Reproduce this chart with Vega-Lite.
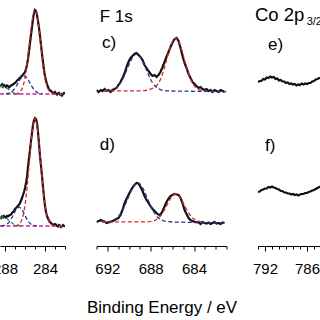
{
  "$schema": "https://vega.github.io/schema/vega-lite/v6.json",
  "padding": {"left": -8, "top": 0, "right": 0, "bottom": 8},
  "spacing": 31.5,
  "bounds": "flush",
  "config": {
    "view": {"stroke": null},
    "font": "Liberation Sans",
    "axis": {
      "domainColor": "#000", "tickColor": "#000", "labelColor": "#000",
      "labelFont": "Liberation Sans", "labelFontSize": 15, "labelPadding": 10,
      "titleFont": "Liberation Sans", "titleFontSize": 17, "titleFontWeight": "normal",
      "titleColor": "#000", "titlePadding": 23, "grid": false, "labelOverlap": false,
      "domainWidth": 1, "tickWidth": 1
    }
  },
  "datasets": {
    "c1s": [
      {"r":"a","E":288.5,"I":161},{"r":"a","E":288.4,"I":160},{"r":"a","E":288.3,"I":161.5},{"r":"a","E":288.2,"I":159.5},{"r":"a","E":288.1,"I":161},{"r":"a","E":288.0,"I":160},{"r":"a","E":287.9,"I":159},{"r":"a","E":287.8,"I":160.5},{"r":"a","E":287.7,"I":160},{"r":"a","E":287.6,"I":158.5},{"r":"a","E":287.5,"I":159.5},{"r":"a","E":287.4,"I":160.5},{"r":"a","E":287.3,"I":161},{"r":"a","E":287.2,"I":161.5},{"r":"a","E":287.1,"I":162.5},{"r":"a","E":287.0,"I":163},{"r":"a","E":286.9,"I":164},{"r":"a","E":286.8,"I":165.5},{"r":"a","E":286.7,"I":166},{"r":"a","E":286.6,"I":167.5},{"r":"a","E":286.5,"I":168},{"r":"a","E":286.4,"I":169.5},{"r":"a","E":286.3,"I":170},{"r":"a","E":286.2,"I":171.5},{"r":"a","E":286.1,"I":172.5},{"r":"a","E":286.0,"I":174},{"r":"a","E":285.9,"I":177},{"r":"a","E":285.8,"I":181},{"r":"a","E":285.7,"I":187},{"r":"a","E":285.6,"I":195},{"r":"a","E":285.5,"I":203},{"r":"a","E":285.4,"I":211},{"r":"a","E":285.3,"I":219},{"r":"a","E":285.2,"I":227},{"r":"a","E":285.1,"I":233},{"r":"a","E":285.0,"I":236},{"r":"a","E":284.9,"I":235},{"r":"a","E":284.8,"I":231},{"r":"a","E":284.7,"I":225},{"r":"a","E":284.6,"I":218},{"r":"a","E":284.5,"I":210},{"r":"a","E":284.4,"I":201},{"r":"a","E":284.3,"I":192},{"r":"a","E":284.2,"I":184},{"r":"a","E":284.1,"I":176},{"r":"a","E":284.0,"I":170},{"r":"a","E":283.9,"I":165.5},{"r":"a","E":283.8,"I":162},{"r":"a","E":283.7,"I":159},{"r":"a","E":283.6,"I":157},{"r":"a","E":283.5,"I":155.5},{"r":"a","E":283.4,"I":155},{"r":"a","E":283.3,"I":154},{"r":"a","E":283.2,"I":152.5},{"r":"a","E":283.1,"I":153},{"r":"a","E":283.0,"I":154},{"r":"a","E":282.9,"I":152.5},{"r":"a","E":282.8,"I":151.5},{"r":"a","E":282.7,"I":152.5},{"r":"a","E":282.6,"I":153},{"r":"a","E":282.5,"I":151.5},{"r":"a","E":282.4,"I":152},{"r":"a","E":282.3,"I":150.5},{"r":"a","E":282.2,"I":152},{"r":"a","E":282.1,"I":153},{"r":"a","E":282.0,"I":152},
      {"r":"b","E":288.5,"I":29},{"r":"b","E":288.4,"I":28},{"r":"b","E":288.3,"I":29.5},{"r":"b","E":288.2,"I":28.5},{"r":"b","E":288.1,"I":30},{"r":"b","E":288.0,"I":29},{"r":"b","E":287.9,"I":28.5},{"r":"b","E":287.8,"I":30},{"r":"b","E":287.7,"I":29.5},{"r":"b","E":287.6,"I":30.5},{"r":"b","E":287.5,"I":31},{"r":"b","E":287.4,"I":31.5},{"r":"b","E":287.3,"I":33},{"r":"b","E":287.2,"I":34},{"r":"b","E":287.1,"I":35},{"r":"b","E":287.0,"I":37},{"r":"b","E":286.9,"I":38},{"r":"b","E":286.8,"I":39},{"r":"b","E":286.7,"I":40.5},{"r":"b","E":286.6,"I":41},{"r":"b","E":286.5,"I":43},{"r":"b","E":286.4,"I":45.5},{"r":"b","E":286.3,"I":48},{"r":"b","E":286.2,"I":51},{"r":"b","E":286.1,"I":54},{"r":"b","E":286.0,"I":58},{"r":"b","E":285.9,"I":63},{"r":"b","E":285.8,"I":69},{"r":"b","E":285.7,"I":79},{"r":"b","E":285.6,"I":88},{"r":"b","E":285.5,"I":96},{"r":"b","E":285.4,"I":105},{"r":"b","E":285.3,"I":113},{"r":"b","E":285.2,"I":121},{"r":"b","E":285.1,"I":126},{"r":"b","E":285.0,"I":128},{"r":"b","E":284.9,"I":127},{"r":"b","E":284.8,"I":123},{"r":"b","E":284.7,"I":114},{"r":"b","E":284.6,"I":102},{"r":"b","E":284.5,"I":90},{"r":"b","E":284.4,"I":80},{"r":"b","E":284.3,"I":70},{"r":"b","E":284.2,"I":59},{"r":"b","E":284.1,"I":49},{"r":"b","E":284.0,"I":40},{"r":"b","E":283.9,"I":34},{"r":"b","E":283.8,"I":30},{"r":"b","E":283.7,"I":27.5},{"r":"b","E":283.6,"I":25.5},{"r":"b","E":283.5,"I":24},{"r":"b","E":283.4,"I":23},{"r":"b","E":283.3,"I":22},{"r":"b","E":283.2,"I":21.5},{"r":"b","E":283.1,"I":21},{"r":"b","E":283.0,"I":22},{"r":"b","E":282.9,"I":21.5},{"r":"b","E":282.8,"I":20},{"r":"b","E":282.7,"I":19.5},{"r":"b","E":282.6,"I":21},{"r":"b","E":282.5,"I":20.5},{"r":"b","E":282.4,"I":19},{"r":"b","E":282.3,"I":20},{"r":"b","E":282.2,"I":21},{"r":"b","E":282.1,"I":20},{"r":"b","E":282.0,"I":19.5}
    ],
    "c1sfit": [
      {"r":"a","c":"base","E":288.5,"I":152},{"r":"a","c":"base","E":282.0,"I":152},
      {"r":"a","c":"green","E":288.5,"I":159.6},{"r":"a","c":"green","E":288.3,"I":160},{"r":"a","c":"green","E":288.1,"I":159.6},{"r":"a","c":"green","E":287.9,"I":158.4},{"r":"a","c":"green","E":287.7,"I":156.9},{"r":"a","c":"green","E":287.5,"I":155.3},{"r":"a","c":"green","E":287.3,"I":154},{"r":"a","c":"green","E":287.1,"I":153.1},{"r":"a","c":"green","E":286.9,"I":152.5},{"r":"a","c":"green","E":286.7,"I":152.2},{"r":"a","c":"green","E":286.5,"I":152},
      {"r":"a","c":"blue","E":287.9,"I":152.2},{"r":"a","c":"blue","E":287.7,"I":152.5},{"r":"a","c":"blue","E":287.5,"I":153.2},{"r":"a","c":"blue","E":287.3,"I":154.4},{"r":"a","c":"blue","E":287.1,"I":156.5},{"r":"a","c":"blue","E":286.9,"I":159.4},{"r":"a","c":"blue","E":286.7,"I":162.9},{"r":"a","c":"blue","E":286.5,"I":166.4},{"r":"a","c":"blue","E":286.3,"I":169},{"r":"a","c":"blue","E":286.1,"I":170},{"r":"a","c":"blue","E":285.9,"I":169},{"r":"a","c":"blue","E":285.7,"I":166.4},{"r":"a","c":"blue","E":285.5,"I":162.9},{"r":"a","c":"blue","E":285.3,"I":159.4},{"r":"a","c":"blue","E":285.1,"I":156.5},{"r":"a","c":"blue","E":284.9,"I":154.4},{"r":"a","c":"blue","E":284.7,"I":153.2},{"r":"a","c":"blue","E":284.5,"I":152.5},{"r":"a","c":"blue","E":284.3,"I":152.2},
      {"r":"a","c":"main","E":287.0,"I":152.1},{"r":"a","c":"main","E":286.8,"I":152.4},{"r":"a","c":"main","E":286.6,"I":153.2},{"r":"a","c":"main","E":286.4,"I":155.3},{"r":"a","c":"main","E":286.3,"I":157.1},{"r":"a","c":"main","E":286.2,"I":159.8},{"r":"a","c":"main","E":286.1,"I":163.3},{"r":"a","c":"main","E":286.0,"I":168},{"r":"a","c":"main","E":285.9,"I":174},{"r":"a","c":"main","E":285.8,"I":181.1},{"r":"a","c":"main","E":285.7,"I":189.4},{"r":"a","c":"main","E":285.6,"I":198.4},{"r":"a","c":"main","E":285.5,"I":207.6},{"r":"a","c":"main","E":285.4,"I":216.5},{"r":"a","c":"main","E":285.3,"I":224.4},{"r":"a","c":"main","E":285.2,"I":230.6},{"r":"a","c":"main","E":285.1,"I":234.7},{"r":"a","c":"main","E":285.0,"I":236},{"r":"a","c":"main","E":284.9,"I":234.7},{"r":"a","c":"main","E":284.8,"I":230.6},{"r":"a","c":"main","E":284.7,"I":224.4},{"r":"a","c":"main","E":284.6,"I":216.5},{"r":"a","c":"main","E":284.5,"I":207.6},{"r":"a","c":"main","E":284.4,"I":198.4},{"r":"a","c":"main","E":284.3,"I":189.4},{"r":"a","c":"main","E":284.2,"I":181.1},{"r":"a","c":"main","E":284.1,"I":174},{"r":"a","c":"main","E":284.0,"I":168},{"r":"a","c":"main","E":283.9,"I":163.3},{"r":"a","c":"main","E":283.8,"I":159.8},{"r":"a","c":"main","E":283.7,"I":157.1},{"r":"a","c":"main","E":283.6,"I":155.3},{"r":"a","c":"main","E":283.4,"I":153.2},{"r":"a","c":"main","E":283.2,"I":152.4},{"r":"a","c":"main","E":283.0,"I":152.1},
      {"r":"b","c":"base","E":288.5,"I":20},{"r":"b","c":"base","E":282.0,"I":20},
      {"r":"b","c":"green","E":288.5,"I":27.9},{"r":"b","c":"green","E":288.4,"I":28.5},{"r":"b","c":"green","E":288.2,"I":29},{"r":"b","c":"green","E":288.0,"I":28.5},{"r":"b","c":"green","E":287.8,"I":27.2},{"r":"b","c":"green","E":287.6,"I":25.5},{"r":"b","c":"green","E":287.4,"I":23.7},{"r":"b","c":"green","E":287.2,"I":22.2},{"r":"b","c":"green","E":287.0,"I":21.2},{"r":"b","c":"green","E":286.8,"I":20.6},{"r":"b","c":"green","E":286.6,"I":20.25},{"r":"b","c":"green","E":286.4,"I":20.1},
      {"r":"b","c":"blue","E":288.4,"I":20.1},{"r":"b","c":"blue","E":288.2,"I":20.3},{"r":"b","c":"blue","E":288.0,"I":20.7},{"r":"b","c":"blue","E":287.8,"I":21.8},{"r":"b","c":"blue","E":287.6,"I":23.6},{"r":"b","c":"blue","E":287.4,"I":26.6},{"r":"b","c":"blue","E":287.2,"I":30.5},{"r":"b","c":"blue","E":287.0,"I":34.6},{"r":"b","c":"blue","E":286.8,"I":37.8},{"r":"b","c":"blue","E":286.6,"I":39},{"r":"b","c":"blue","E":286.4,"I":37.8},{"r":"b","c":"blue","E":286.2,"I":34.6},{"r":"b","c":"blue","E":286.0,"I":30.5},{"r":"b","c":"blue","E":285.8,"I":26.6},{"r":"b","c":"blue","E":285.6,"I":23.6},{"r":"b","c":"blue","E":285.4,"I":21.8},{"r":"b","c":"blue","E":285.2,"I":20.7},{"r":"b","c":"blue","E":285.0,"I":20.3},{"r":"b","c":"blue","E":284.8,"I":20.1},
      {"r":"b","c":"main","E":287.0,"I":20.2},{"r":"b","c":"main","E":286.8,"I":20.5},{"r":"b","c":"main","E":286.6,"I":21.6},{"r":"b","c":"main","E":286.4,"I":24.2},{"r":"b","c":"main","E":286.3,"I":26.6},{"r":"b","c":"main","E":286.2,"I":30},{"r":"b","c":"main","E":286.1,"I":34.6},{"r":"b","c":"main","E":286.0,"I":40.6},{"r":"b","c":"main","E":285.9,"I":48.3},{"r":"b","c":"main","E":285.8,"I":57.5},{"r":"b","c":"main","E":285.7,"I":68.1},{"r":"b","c":"main","E":285.6,"I":79.6},{"r":"b","c":"main","E":285.5,"I":91.5},{"r":"b","c":"main","E":285.4,"I":102.9},{"r":"b","c":"main","E":285.3,"I":113.1},{"r":"b","c":"main","E":285.2,"I":121.1},{"r":"b","c":"main","E":285.1,"I":126.3},{"r":"b","c":"main","E":285.0,"I":128},{"r":"b","c":"main","E":284.9,"I":126.3},{"r":"b","c":"main","E":284.8,"I":121.1},{"r":"b","c":"main","E":284.7,"I":113.1},{"r":"b","c":"main","E":284.6,"I":102.9},{"r":"b","c":"main","E":284.5,"I":91.5},{"r":"b","c":"main","E":284.4,"I":79.6},{"r":"b","c":"main","E":284.3,"I":68.1},{"r":"b","c":"main","E":284.2,"I":57.5},{"r":"b","c":"main","E":284.1,"I":48.3},{"r":"b","c":"main","E":284.0,"I":40.6},{"r":"b","c":"main","E":283.9,"I":34.6},{"r":"b","c":"main","E":283.8,"I":30},{"r":"b","c":"main","E":283.7,"I":26.6},{"r":"b","c":"main","E":283.6,"I":24.2},{"r":"b","c":"main","E":283.4,"I":21.6},{"r":"b","c":"main","E":283.2,"I":20.5},{"r":"b","c":"main","E":283.0,"I":20.2}
    ],
    "f1s": [
      {"r":"a","E":693.0,"I":156},{"r":"a","E":692.8,"I":154},{"r":"a","E":692.6,"I":156},{"r":"a","E":692.45,"I":155},{"r":"a","E":692.26,"I":157},{"r":"a","E":692.08,"I":155},{"r":"a","E":691.9,"I":156},{"r":"a","E":691.7,"I":154},{"r":"a","E":691.5,"I":156},{"r":"a","E":691.34,"I":157},{"r":"a","E":691.15,"I":158},{"r":"a","E":690.97,"I":161},{"r":"a","E":690.78,"I":164},{"r":"a","E":690.6,"I":168},{"r":"a","E":690.4,"I":173},{"r":"a","E":690.23,"I":179},{"r":"a","E":690.05,"I":184},{"r":"a","E":689.86,"I":188},{"r":"a","E":689.68,"I":190},{"r":"a","E":689.5,"I":192},{"r":"a","E":689.3,"I":193},{"r":"a","E":689.12,"I":191},{"r":"a","E":688.94,"I":189},{"r":"a","E":688.75,"I":186},{"r":"a","E":688.57,"I":181},{"r":"a","E":688.38,"I":178},{"r":"a","E":688.2,"I":175},{"r":"a","E":688.0,"I":172},{"r":"a","E":687.83,"I":170},{"r":"a","E":687.64,"I":171},{"r":"a","E":687.46,"I":169},{"r":"a","E":687.28,"I":171},{"r":"a","E":687.1,"I":174},{"r":"a","E":686.9,"I":179},{"r":"a","E":686.72,"I":184},{"r":"a","E":686.54,"I":189},{"r":"a","E":686.35,"I":194},{"r":"a","E":686.17,"I":199},{"r":"a","E":686.0,"I":203},{"r":"a","E":685.8,"I":207},{"r":"a","E":685.6,"I":208},{"r":"a","E":685.43,"I":205},{"r":"a","E":685.24,"I":198},{"r":"a","E":685.06,"I":190},{"r":"a","E":684.87,"I":183},{"r":"a","E":684.69,"I":178},{"r":"a","E":684.5,"I":172},{"r":"a","E":684.32,"I":168},{"r":"a","E":684.14,"I":164},{"r":"a","E":683.95,"I":162},{"r":"a","E":683.77,"I":160},{"r":"a","E":683.58,"I":158},{"r":"a","E":683.4,"I":159},{"r":"a","E":683.21,"I":157},{"r":"a","E":683.03,"I":156},{"r":"a","E":682.84,"I":157},{"r":"a","E":682.66,"I":155},{"r":"a","E":682.47,"I":156},{"r":"a","E":682.29,"I":154},{"r":"a","E":682.1,"I":156},{"r":"a","E":681.92,"I":155},{"r":"a","E":681.73,"I":154},{"r":"a","E":681.55,"I":156},{"r":"a","E":681.36,"I":155},{"r":"a","E":681.18,"I":154},
      {"r":"b","E":693.0,"I":24},{"r":"b","E":692.8,"I":25},{"r":"b","E":692.6,"I":26},{"r":"b","E":692.45,"I":25},{"r":"b","E":692.26,"I":24.5},{"r":"b","E":692.08,"I":23},{"r":"b","E":691.9,"I":23.5},{"r":"b","E":691.7,"I":24},{"r":"b","E":691.5,"I":25},{"r":"b","E":691.34,"I":26},{"r":"b","E":691.15,"I":27},{"r":"b","E":690.97,"I":28},{"r":"b","E":690.78,"I":31},{"r":"b","E":690.6,"I":36},{"r":"b","E":690.4,"I":43},{"r":"b","E":690.23,"I":47},{"r":"b","E":690.05,"I":51},{"r":"b","E":689.86,"I":55},{"r":"b","E":689.68,"I":58.5},{"r":"b","E":689.5,"I":61},{"r":"b","E":689.3,"I":63},{"r":"b","E":689.12,"I":62.5},{"r":"b","E":688.94,"I":59},{"r":"b","E":688.75,"I":55},{"r":"b","E":688.57,"I":50},{"r":"b","E":688.38,"I":46},{"r":"b","E":688.2,"I":43},{"r":"b","E":688.0,"I":39.5},{"r":"b","E":687.83,"I":37},{"r":"b","E":687.64,"I":35},{"r":"b","E":687.46,"I":33},{"r":"b","E":687.28,"I":31.5},{"r":"b","E":687.1,"I":31},{"r":"b","E":686.9,"I":35},{"r":"b","E":686.72,"I":39.5},{"r":"b","E":686.54,"I":44},{"r":"b","E":686.35,"I":47.5},{"r":"b","E":686.17,"I":50},{"r":"b","E":686.0,"I":51},{"r":"b","E":685.8,"I":52},{"r":"b","E":685.6,"I":51.5},{"r":"b","E":685.43,"I":51},{"r":"b","E":685.24,"I":48},{"r":"b","E":685.06,"I":43},{"r":"b","E":684.87,"I":36},{"r":"b","E":684.69,"I":32},{"r":"b","E":684.5,"I":28},{"r":"b","E":684.32,"I":26},{"r":"b","E":684.14,"I":25},{"r":"b","E":683.95,"I":24},{"r":"b","E":683.77,"I":24},{"r":"b","E":683.58,"I":23.5},{"r":"b","E":683.4,"I":22},{"r":"b","E":683.21,"I":24},{"r":"b","E":683.03,"I":23},{"r":"b","E":682.84,"I":22.5},{"r":"b","E":682.66,"I":23.5},{"r":"b","E":682.47,"I":22},{"r":"b","E":682.29,"I":23},{"r":"b","E":682.1,"I":24},{"r":"b","E":681.92,"I":22.5},{"r":"b","E":681.73,"I":23},{"r":"b","E":681.55,"I":22},{"r":"b","E":681.36,"I":23.5},{"r":"b","E":681.18,"I":23}
    ],
    "f1sfit": [
      {"r":"a","c":"main","E":692.3,"I":155},{"r":"a","c":"main","E":689.0,"I":155.1},{"r":"a","c":"main","E":688.5,"I":155.5},{"r":"a","c":"main","E":688.3,"I":156},{"r":"a","c":"main","E":688.1,"I":156.6},{"r":"a","c":"main","E":687.9,"I":157.3},{"r":"a","c":"main","E":687.7,"I":158.3},{"r":"a","c":"main","E":687.5,"I":159.8},{"r":"a","c":"main","E":687.3,"I":162.5},{"r":"a","c":"main","E":687.1,"I":166.5},{"r":"a","c":"main","E":686.9,"I":172.2},{"r":"a","c":"main","E":686.7,"I":179.3},{"r":"a","c":"main","E":686.5,"I":187.2},{"r":"a","c":"main","E":686.3,"I":195},{"r":"a","c":"main","E":686.1,"I":201.7},{"r":"a","c":"main","E":685.9,"I":206.4},{"r":"a","c":"main","E":685.7,"I":208},{"r":"a","c":"main","E":685.5,"I":206.4},{"r":"a","c":"main","E":685.3,"I":201.7},{"r":"a","c":"main","E":685.1,"I":195},{"r":"a","c":"main","E":684.9,"I":187.2},{"r":"a","c":"main","E":684.7,"I":179.3},{"r":"a","c":"main","E":684.5,"I":172.2},{"r":"a","c":"main","E":684.3,"I":166.4},{"r":"a","c":"main","E":684.1,"I":162.2},{"r":"a","c":"main","E":683.9,"I":159.2},{"r":"a","c":"main","E":683.7,"I":157.3},{"r":"a","c":"main","E":683.5,"I":156.2},{"r":"a","c":"main","E":683.3,"I":155.6},{"r":"a","c":"main","E":683.1,"I":155.3},{"r":"a","c":"main","E":682.9,"I":155.1},
      {"r":"a","c":"blue","E":691.9,"I":155.3},{"r":"a","c":"blue","E":691.7,"I":155.7},{"r":"a","c":"blue","E":691.5,"I":156.3},{"r":"a","c":"blue","E":691.3,"I":157.3},{"r":"a","c":"blue","E":691.1,"I":158.9},{"r":"a","c":"blue","E":690.9,"I":161.3},{"r":"a","c":"blue","E":690.7,"I":164.5},{"r":"a","c":"blue","E":690.5,"I":168.7},{"r":"a","c":"blue","E":690.3,"I":173.5},{"r":"a","c":"blue","E":690.1,"I":178.8},{"r":"a","c":"blue","E":689.9,"I":183.9},{"r":"a","c":"blue","E":689.7,"I":188.1},{"r":"a","c":"blue","E":689.5,"I":191},{"r":"a","c":"blue","E":689.3,"I":192},{"r":"a","c":"blue","E":689.1,"I":191},{"r":"a","c":"blue","E":688.9,"I":188.1},{"r":"a","c":"blue","E":688.7,"I":183.9},{"r":"a","c":"blue","E":688.5,"I":178.8},{"r":"a","c":"blue","E":688.3,"I":173.5},{"r":"a","c":"blue","E":688.1,"I":168.7},{"r":"a","c":"blue","E":687.9,"I":164.5},{"r":"a","c":"blue","E":687.7,"I":161.3},{"r":"a","c":"blue","E":687.5,"I":158.9},{"r":"a","c":"blue","E":687.3,"I":157.3},{"r":"a","c":"blue","E":687.1,"I":156.3},{"r":"a","c":"blue","E":686.9,"I":155.7},{"r":"a","c":"blue","E":686.7,"I":155.3},{"r":"a","c":"blue","E":686.5,"I":155.1},{"r":"a","c":"blue","E":686.0,"I":155},{"r":"a","c":"blue","E":684.0,"I":154.7},{"r":"a","c":"blue","E":681.0,"I":154.3},
      {"r":"b","c":"main","E":692.5,"I":24},{"r":"b","c":"main","E":688.5,"I":24.1},{"r":"b","c":"main","E":688.3,"I":24.2},{"r":"b","c":"main","E":688.1,"I":24.4},{"r":"b","c":"main","E":687.9,"I":24.7},{"r":"b","c":"main","E":687.7,"I":25.2},{"r":"b","c":"main","E":687.5,"I":26.2},{"r":"b","c":"main","E":687.3,"I":27.8},{"r":"b","c":"main","E":687.1,"I":30},{"r":"b","c":"main","E":686.9,"I":33.1},{"r":"b","c":"main","E":686.7,"I":36.8},{"r":"b","c":"main","E":686.5,"I":41},{"r":"b","c":"main","E":686.3,"I":45.1},{"r":"b","c":"main","E":686.1,"I":48.7},{"r":"b","c":"main","E":685.9,"I":51.1},{"r":"b","c":"main","E":685.7,"I":52},{"r":"b","c":"main","E":685.5,"I":51.1},{"r":"b","c":"main","E":685.3,"I":48.7},{"r":"b","c":"main","E":685.1,"I":45.1},{"r":"b","c":"main","E":684.9,"I":41},{"r":"b","c":"main","E":684.7,"I":36.8},{"r":"b","c":"main","E":684.5,"I":33.1},{"r":"b","c":"main","E":684.3,"I":30},{"r":"b","c":"main","E":684.1,"I":27.8},{"r":"b","c":"main","E":683.9,"I":26.2},{"r":"b","c":"main","E":683.7,"I":25.2},{"r":"b","c":"main","E":683.5,"I":24.6},{"r":"b","c":"main","E":683.3,"I":24.3},{"r":"b","c":"main","E":683.1,"I":24.1},
      {"r":"b","c":"blue","E":692.0,"I":24.3},{"r":"b","c":"blue","E":691.8,"I":24.6},{"r":"b","c":"blue","E":691.6,"I":25.1},{"r":"b","c":"blue","E":691.4,"I":26},{"r":"b","c":"blue","E":691.2,"I":27.3},{"r":"b","c":"blue","E":691.0,"I":29.3},{"r":"b","c":"blue","E":690.8,"I":32},{"r":"b","c":"blue","E":690.6,"I":35.6},{"r":"b","c":"blue","E":690.4,"I":40},{"r":"b","c":"blue","E":690.2,"I":45},{"r":"b","c":"blue","E":690.0,"I":50.3},{"r":"b","c":"blue","E":689.8,"I":55.2},{"r":"b","c":"blue","E":689.6,"I":59.3},{"r":"b","c":"blue","E":689.4,"I":62.1},{"r":"b","c":"blue","E":689.2,"I":63},{"r":"b","c":"blue","E":689.0,"I":62.1},{"r":"b","c":"blue","E":688.8,"I":59.3},{"r":"b","c":"blue","E":688.6,"I":55.2},{"r":"b","c":"blue","E":688.4,"I":50.3},{"r":"b","c":"blue","E":688.2,"I":45},{"r":"b","c":"blue","E":688.0,"I":40},{"r":"b","c":"blue","E":687.8,"I":35.6},{"r":"b","c":"blue","E":687.6,"I":32},{"r":"b","c":"blue","E":687.4,"I":29.3},{"r":"b","c":"blue","E":687.2,"I":27.3},{"r":"b","c":"blue","E":687.0,"I":26},{"r":"b","c":"blue","E":686.8,"I":25.1},{"r":"b","c":"blue","E":686.6,"I":24.6},{"r":"b","c":"blue","E":686.4,"I":24.3},{"r":"b","c":"blue","E":686.0,"I":24},{"r":"b","c":"blue","E":684.0,"I":23.5},{"r":"b","c":"blue","E":681.0,"I":23}
    ],
    "co": [
      {"r":"a","E":793.0,"I":164},{"r":"a","E":792.75,"I":165},{"r":"a","E":792.5,"I":165},{"r":"a","E":792.25,"I":167},{"r":"a","E":792.0,"I":166.5},{"r":"a","E":791.75,"I":168.5},{"r":"a","E":791.5,"I":168},{"r":"a","E":791.25,"I":169.5},{"r":"a","E":791.0,"I":168.5},{"r":"a","E":790.75,"I":169},{"r":"a","E":790.5,"I":167},{"r":"a","E":790.25,"I":167.5},{"r":"a","E":790.0,"I":165.5},{"r":"a","E":789.75,"I":166},{"r":"a","E":789.5,"I":164.5},{"r":"a","E":789.25,"I":164.5},{"r":"a","E":789.0,"I":163},{"r":"a","E":788.75,"I":163.5},{"r":"a","E":788.5,"I":162},{"r":"a","E":788.25,"I":162.5},{"r":"a","E":788.0,"I":161.5},{"r":"a","E":787.75,"I":162},{"r":"a","E":787.5,"I":160.5},{"r":"a","E":787.25,"I":161.5},{"r":"a","E":787.0,"I":161},{"r":"a","E":786.75,"I":162.5},{"r":"a","E":786.5,"I":161.5},{"r":"a","E":786.25,"I":162.5},{"r":"a","E":786.0,"I":162},{"r":"a","E":785.75,"I":163},{"r":"a","E":785.5,"I":163},{"r":"a","E":785.25,"I":164.5},{"r":"a","E":785.0,"I":165},{"r":"a","E":784.75,"I":166.5},{"r":"a","E":784.5,"I":167},{"r":"a","E":784.25,"I":168},{"r":"a","E":784.0,"I":168},
      {"r":"b","E":793.0,"I":54},{"r":"b","E":792.75,"I":54.5},{"r":"b","E":792.5,"I":56},{"r":"b","E":792.25,"I":56.5},{"r":"b","E":792.0,"I":57.5},{"r":"b","E":791.75,"I":57.5},{"r":"b","E":791.5,"I":59},{"r":"b","E":791.25,"I":58.5},{"r":"b","E":791.0,"I":59.5},{"r":"b","E":790.75,"I":58.5},{"r":"b","E":790.5,"I":58},{"r":"b","E":790.25,"I":57},{"r":"b","E":790.0,"I":56.5},{"r":"b","E":789.75,"I":55},{"r":"b","E":789.5,"I":55},{"r":"b","E":789.25,"I":53.5},{"r":"b","E":789.0,"I":53.5},{"r":"b","E":788.75,"I":52.5},{"r":"b","E":788.5,"I":52.5},{"r":"b","E":788.25,"I":51.5},{"r":"b","E":788.0,"I":52},{"r":"b","E":787.75,"I":51},{"r":"b","E":787.5,"I":51.5},{"r":"b","E":787.25,"I":50.5},{"r":"b","E":787.0,"I":51.5},{"r":"b","E":786.75,"I":52},{"r":"b","E":786.5,"I":52},{"r":"b","E":786.25,"I":53},{"r":"b","E":786.0,"I":53},{"r":"b","E":785.75,"I":54},{"r":"b","E":785.5,"I":54.5},{"r":"b","E":785.25,"I":55.5},{"r":"b","E":785.0,"I":56},{"r":"b","E":784.75,"I":57},{"r":"b","E":784.5,"I":58},{"r":"b","E":784.25,"I":59},{"r":"b","E":784.0,"I":59.5}
    ],
    "lab2": [
      {"t":"F 1s","E":692.7,"I":229},
      {"t":"c)","E":692.5,"I":203},
      {"t":"d)","E":692.7,"I":101}
    ],
    "lab3": [
      {"t":"Co 2p","E":793.43,"I":231}
    ],
    "lab3b": [
      {"t":"e)","E":791.57,"I":201},
      {"t":"f)","E":792.0,"I":100}
    ],
    "sub3": [
      {"t":"3/2","E":786.05,"I":224}
    ]
  },
  "hconcat": [
    {
      "width": 65, "height": 246,
      "encoding": {
        "x": {"field": "E", "type": "quantitative",
              "scale": {"domain": [288.5, 282], "nice": false, "zero": false},
              "axis": {"values": [288, 287, 286, 285, 284, 283, 282],
                       "labelExpr": "datum.value % 4 === 0 ? datum.label : ''",
                       "tickSize": {"condition": {"test": "datum.value % 4 === 0", "value": 5}, "value": 3},
                       "title": null}},
        "y": {"field": "I", "type": "quantitative",
              "scale": {"domain": [0, 246], "nice": false, "zero": false}, "axis": null}
      },
      "layer": [
        {"data": {"name": "c1s"},
         "mark": {"type": "line", "color": "#111111", "strokeWidth": 2.2, "clip": true},
         "encoding": {"detail": {"field": "r"}}},
        {"data": {"name": "c1sfit"},
         "mark": {"type": "line", "strokeWidth": 1.3, "strokeDash": [4, 2.5], "clip": true},
         "encoding": {"detail": {"field": "r"},
                      "color": {"field": "c", "type": "nominal",
                                "scale": {"domain": ["base", "green", "blue", "main"],
                                          "range": ["#c0279e", "#2e8b57", "#2a3590", "#d7262b"]},
                                "legend": null}}}
      ]
    },
    {
      "width": 130, "height": 246,
      "encoding": {
        "x": {"field": "E", "type": "quantitative",
              "scale": {"domain": [693, 681], "nice": false, "zero": false},
              "axis": {"values": [693, 692, 691, 690, 689, 688, 687, 686, 685, 684, 683, 682, 681],
                       "labelExpr": "datum.value % 4 === 0 ? datum.label : ''",
                       "tickSize": {"condition": {"test": "datum.value % 4 === 0", "value": 5}, "value": 3},
                       "title": "Binding Energy / eV"}},
        "y": {"field": "I", "type": "quantitative",
              "scale": {"domain": [0, 246], "nice": false, "zero": false}, "axis": null}
      },
      "layer": [
        {"data": {"name": "f1s"},
         "mark": {"type": "line", "color": "#111111", "strokeWidth": 2.2, "clip": true},
         "encoding": {"detail": {"field": "r"}}},
        {"data": {"name": "f1sfit"},
         "mark": {"type": "line", "strokeWidth": 1.3, "strokeDash": [4, 2.5], "clip": true},
         "encoding": {"detail": {"field": "r"},
                      "color": {"field": "c", "type": "nominal",
                                "scale": {"domain": ["base", "green", "blue", "main"],
                                          "range": ["#c0279e", "#2e8b57", "#2a3590", "#d7262b"]},
                                "legend": null}}},
        {"data": {"name": "lab2"},
         "mark": {"type": "text", "align": "left", "baseline": "middle", "fontSize": 17, "font": "Liberation Sans", "color": "#000"},
         "encoding": {"text": {"field": "t"}}}
      ]
    },
    {
      "width": 62, "height": 246,
      "encoding": {
        "x": {"field": "E", "type": "quantitative",
              "scale": {"domain": [793, 784.14], "nice": false, "zero": false},
              "axis": {"values": [793, 792, 791, 790, 789, 788, 787, 786, 785],
                       "labelExpr": "datum.value % 6 === 0 ? datum.label : ''",
                       "tickSize": {"condition": {"test": "datum.value % 6 === 0", "value": 5}, "value": 3},
                       "title": null}},
        "y": {"field": "I", "type": "quantitative",
              "scale": {"domain": [0, 246], "nice": false, "zero": false}, "axis": null}
      },
      "layer": [
        {"data": {"name": "co"},
         "mark": {"type": "line", "color": "#111111", "strokeWidth": 2.2, "clip": true},
         "encoding": {"detail": {"field": "r"}}},
        {"data": {"name": "lab3"},
         "mark": {"type": "text", "align": "left", "baseline": "middle", "fontSize": 18.5, "font": "Liberation Sans", "color": "#000"},
         "encoding": {"text": {"field": "t"}}},
        {"data": {"name": "lab3b"},
         "mark": {"type": "text", "align": "left", "baseline": "middle", "fontSize": 17, "font": "Liberation Sans", "color": "#000"},
         "encoding": {"text": {"field": "t"}}},
        {"data": {"name": "sub3"},
         "mark": {"type": "text", "align": "left", "baseline": "middle", "fontSize": 11, "font": "Liberation Sans", "color": "#000"},
         "encoding": {"text": {"field": "t"}}}
      ]
    }
  ]
}
